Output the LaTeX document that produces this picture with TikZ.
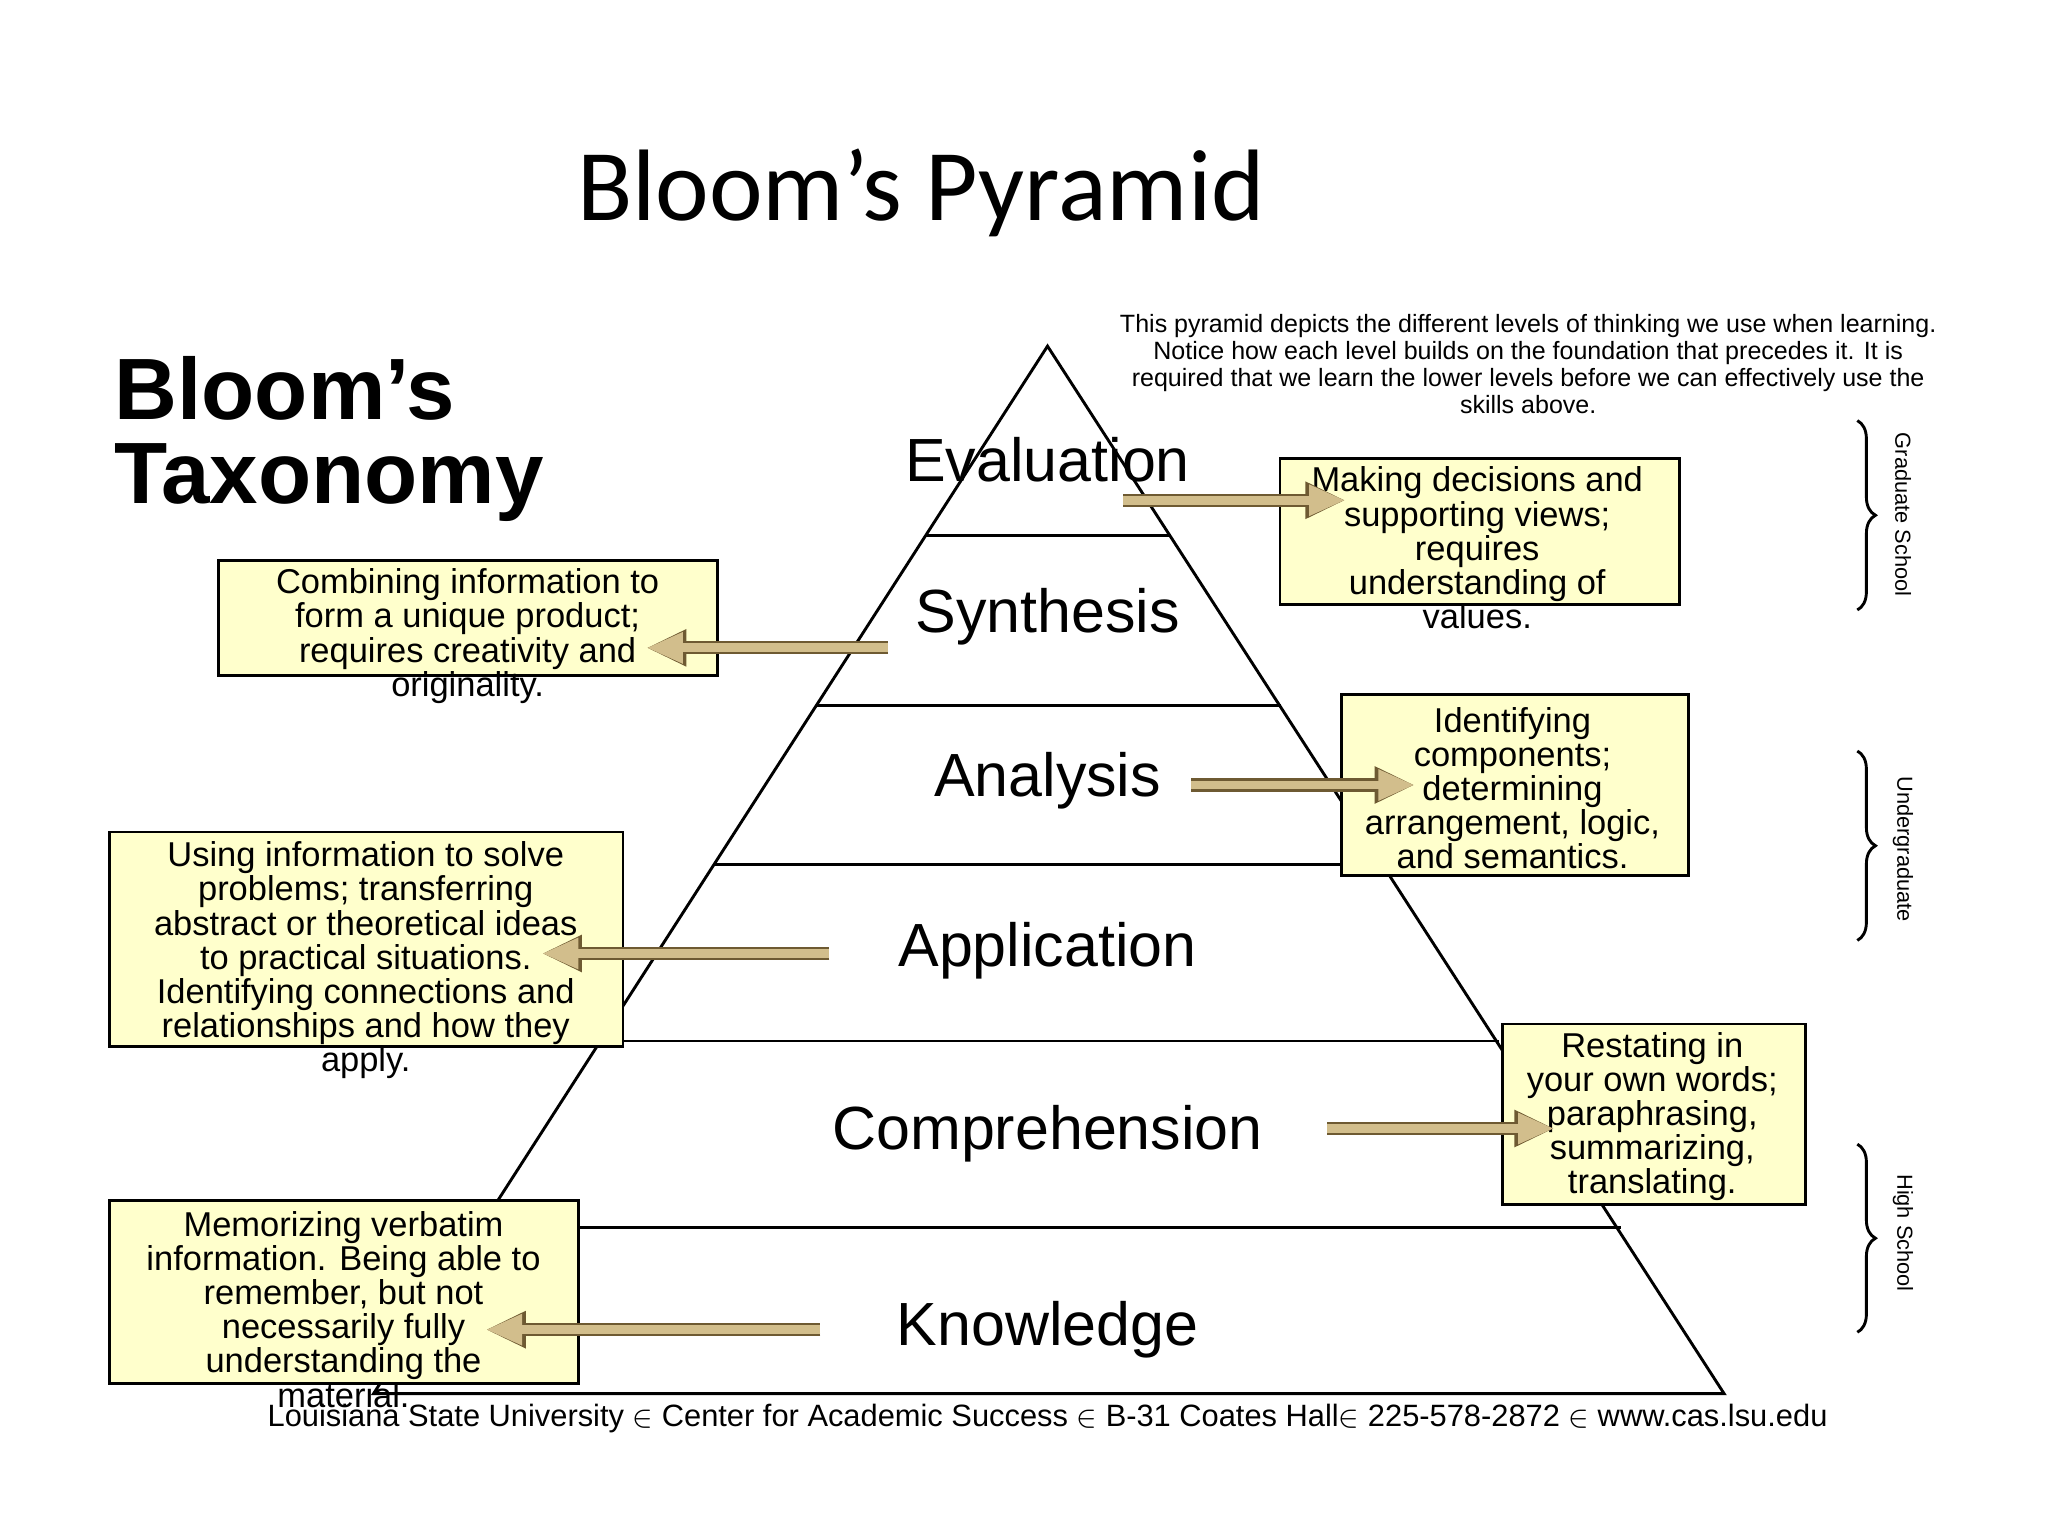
\documentclass[tikz,border=0pt]{standalone}
\usepackage{fontspec}
\setmainfont{Liberation Sans}
\newfontfamily\titlefont{Carlito}
\usetikzlibrary{arrows.meta,decorations.pathreplacing}
\definecolor{boxfill}{HTML}{FFFFCC}
\definecolor{arrfill}{HTML}{D2BE8C}
\definecolor{arrline}{HTML}{6E5A32}

\begin{document}
\begin{tikzpicture}[x=0.36pt,y=-0.36pt]
\tikzstyle{level}=[font=\fontsize{16.8}{18}\selectfont]
\tikzstyle{info}=[draw=black, fill=boxfill, thick, rectangle, inner sep=0pt]
\tikzstyle{infotext}=[anchor=north, align=center, inner sep=0pt, font=\fontsize{9.5}{9.4}\selectfont]
\tikzstyle{arr}=[draw=arrfill, line width=2.4pt, -{Triangle[length=10pt,width=8pt,fill=arrfill]},
   preaction={draw=arrline, line width=3.6pt, -{Triangle[length=11pt,width=9.5pt]}}]
\tikzstyle{brace}=[decorate, decoration={brace, amplitude=5pt}, thick]
\tikzstyle{school}=[rotate=-90, font=\fontsize{6}{7}\selectfont]
\useasboundingbox (0,0) rectangle (1568,1176);
\fill[white] (0,0) rectangle (1568,1176);
% title
\node[font=\titlefont\fontsize{28}{32}\selectfont] (title) at (705,148) {Bloom’s Pyramid};
\node[anchor=west, align=left, font=\bfseries\fontsize{24}{23}\selectfont] (tax) at (78,336) {Bloom’s\\Taxonomy};
\node[align=center, font=\fontsize{6.9}{6.4}\selectfont] (intro) at (1170,279)
   {This pyramid depicts the different levels of thinking we use when learning.\\
    Notice how each level builds on the foundation that precedes it. It is\\
    required that we learn the lower levels before we can effectively use the\\
    skills above.};
% pyramid
\coordinate (apex) at (802,265);
\coordinate (bl) at (286,1067);
\coordinate (br) at (1320,1067);
\draw[thick] (bl) -- (apex) -- (br) -- cycle;
\foreach \y/\l/\r in {410/709/896, 540/625/981, 662/547/1060, 797/460/1148, 940/368/1241}
    \draw[thick] (\l,\y) -- (\r,\y);
\foreach \y/\name in {352/Evaluation, 472/Synthesis, 598/Analysis, 728/Application, 868/Comprehension, 1018/Knowledge}
    \node[level] (l\name) at (802,\y) {\name};
% boxes
\node[info, minimum width=306*0.36pt, minimum height=112*0.36pt] (beval) at (1133,407) {};
\node[infotext] at (1131,357) {Making decisions and\\supporting views;\\requires\\understanding of\\values.};
\node[info, minimum width=382*0.36pt, minimum height=88*0.36pt] (bsyn) at (358,473) {};
\node[infotext] at (358,435) {Combining information to\\form a unique product;\\requires creativity and\\originality.};
\node[info, minimum width=266*0.36pt, minimum height=138*0.36pt] (bana) at (1160,601) {};
\node[infotext] at (1158,541) {Identifying\\components;\\determining\\arrangement, logic,\\and semantics.};
\node[info, minimum width=393*0.36pt, minimum height=164*0.36pt] (bapp) at (280.5,719) {};
\node[infotext] at (280,644) {Using information to solve\\problems; transferring\\abstract or theoretical ideas\\to practical situations.\\Identifying connections and\\relationships and how they\\apply.};
\node[info, minimum width=232*0.36pt, minimum height=138*0.36pt] (bcom) at (1266,853) {};
\node[infotext] at (1265,790) {Restating in\\your own words;\\paraphrasing,\\summarizing,\\translating.};
\node[info, minimum width=359*0.36pt, minimum height=140*0.36pt] (bkno) at (263.5,989) {};
\node[infotext] at (263,927) {Memorizing verbatim\\information. Being able to\\remember, but not\\necessarily fully\\understanding the\\material.};
% arrows
\coordinate (a1) at (860,383);  \coordinate (e1) at (1030,383);
\coordinate (a2) at (680,496);  \coordinate (e2) at (495,496);
\coordinate (a3) at (912,601);  \coordinate (e3) at (1083,601);
\coordinate (a4) at (635,730);  \coordinate (e4) at (415,730);
\coordinate (a5) at (1016,864); \coordinate (e5) at (1190,864);
\coordinate (a6) at (628,1018); \coordinate (e6) at (372,1018);
\foreach \i in {1,...,6}
    \draw[arr] (a\i) -- (e\i);
% braces
\draw[brace] (1422,322) -- (1422,467);
\draw[brace] (1422,575) -- (1422,720);
\draw[brace] (1422,876) -- (1422,1020);
\node[school] at (1457,394) {Graduate School};
\node[school] at (1457,650) {Undergraduate};
\node[school] at (1457,944) {High School};
% footer
\node[font=\fontsize{8.5}{9}\selectfont] (foot) at (802,1086)
   {Louisiana State University $\in$ Center for Academic Success $\in$ B-31 Coates Hall$\in$ 225-578-2872 $\in$ www.cas.lsu.edu};
\end{tikzpicture}
\end{document}
